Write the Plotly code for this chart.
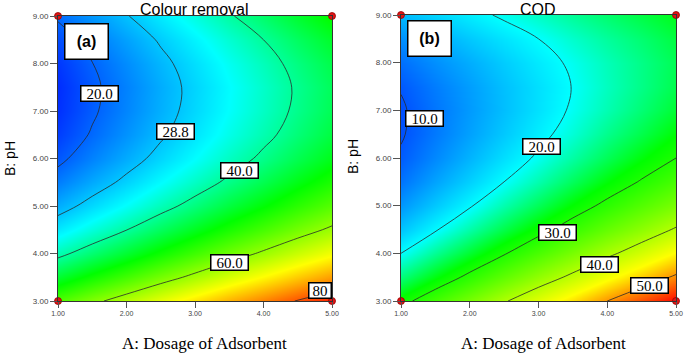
import plotly.graph_objects as go

# ---------------- data ----------------
dosage = [1.0, 1.5, 2.0, 2.5, 3.0, 3.5, 4.0, 4.5, 5.0]
ph = [3.0, 3.5, 4.0, 4.5, 5.0, 5.5, 6.0, 6.5, 7.0, 7.5, 8.0, 8.5, 9.0]

# Colour removal (%) surface (rows = pH, cols = dosage)
colour_removal = [
    [54.7, 58.7, 62.5, 66.3, 69.9, 73.5, 76.9, 80.3, 83.5],
    [46.1, 50.1, 53.9, 57.7, 61.3, 64.9, 68.3, 71.7, 74.9],
    [38.6, 42.6, 46.4, 50.2, 53.8, 57.4, 60.8, 64.2, 67.4],
    [32.1, 36.1, 39.9, 43.7, 47.3, 50.9, 54.3, 57.7, 60.9],
    [26.6, 30.6, 34.4, 38.2, 41.8, 45.4, 48.8, 52.2, 55.4],
    [22.2, 26.2, 30.0, 33.8, 37.4, 41.0, 44.4, 47.8, 51.0],
    [18.8, 22.8, 26.6, 30.4, 34.0, 37.6, 41.0, 44.4, 47.6],
    [16.5, 20.5, 24.3, 28.1, 31.7, 35.3, 38.7, 42.1, 45.3],
    [15.3, 19.3, 23.1, 26.9, 30.5, 34.1, 37.5, 40.9, 44.1],
    [15.0, 19.0, 22.8, 26.6, 30.2, 33.8, 37.2, 40.6, 43.8],
    [15.9, 19.9, 23.7, 27.5, 31.1, 34.7, 38.1, 41.5, 44.7],
    [17.8, 21.8, 25.6, 29.4, 33.0, 36.6, 40.0, 43.4, 46.6],
    [20.7, 24.7, 28.5, 32.3, 35.9, 39.5, 42.9, 46.3, 49.5],
]

# COD removal (%) surface
cod = [
    [28.8, 32.4, 36.0, 39.6, 43.1, 46.5, 50.0, 53.4, 56.7],
    [24.1, 27.5, 30.9, 34.3, 37.7, 40.9, 44.2, 47.4, 50.6],
    [20.0, 23.3, 26.5, 29.7, 32.9, 36.0, 39.1, 42.1, 45.2],
    [16.6, 19.7, 22.8, 25.8, 28.8, 31.7, 34.7, 37.5, 40.4],
    [13.9, 16.8, 19.7, 22.6, 25.4, 28.2, 30.9, 33.6, 36.2],
    [11.8, 14.6, 17.3, 20.0, 22.6, 25.2, 27.8, 30.3, 32.8],
    [10.4, 13.0, 15.6, 18.1, 20.5, 22.9, 25.3, 27.7, 30.0],
    [9.7, 12.1, 14.5, 16.8, 19.1, 21.3, 23.6, 25.7, 27.9],
    [9.6, 11.9, 14.1, 16.2, 18.3, 20.4, 22.4, 24.4, 26.4],
    [10.2, 12.3, 14.3, 16.3, 18.2, 20.1, 22.0, 23.8, 25.6],
    [11.5, 13.4, 15.2, 17.0, 18.8, 20.5, 22.2, 23.8, 25.4],
    [13.4, 15.1, 16.8, 18.4, 20.0, 21.6, 23.1, 24.5, 26.0],
    [16.0, 17.5, 19.0, 20.5, 21.9, 23.3, 24.6, 25.9, 27.2],
]

levels_a = [20.0, 28.8, 40.0, 60.0, 80.0]
levels_b = [10.0, 20.0, 30.0, 40.0, 50.0]

# contour label texts and their positions (data coords)
labels_a = [("20.0", 1.60, 7.37), ("28.8", 2.71, 6.57), ("40.0", 3.65, 5.75),
            ("60.0", 3.51, 3.82), ("80", 4.82, 3.23)]
labels_b = [("10.0", 1.335, 6.82), ("20.0", 3.04, 6.25), ("30.0", 3.27, 4.43),
            ("40.0", 3.89, 3.76), ("50.0", 4.61, 3.32)]

design_x = [1.0, 1.0, 5.0, 5.0]
design_y = [3.0, 9.0, 3.0, 9.0]

x_ticks = [1, 2, 3, 4, 5]
x_ticktext = ["1.00", "2.00", "3.00", "4.00", "5.00"]
y_ticks = [3, 4, 5, 6, 7, 8, 9]
y_ticktext = ["3.00", "4.00", "5.00", "6.00", "7.00", "8.00", "9.00"]

titles = ["Colour removal", "COD"]
panel_tags = ["(a)", "(b)"]
x_title = "A: Dosage of Adsorbent"
y_title = "B: pH"

# colour ramps (value anchors per panel: blue, cyan, green, yellow, red)
ramp_colors = ["rgb(0,0,255)", "rgb(0,255,255)", "rgb(0,255,0)", "rgb(255,255,0)", "rgb(255,0,0)"]
ramp_a = [11, 34, 49, 68, 86]
ramp_b = [5, 20, 28, 45, 57]


def make_scale(anchors):
    lo, hi = anchors[0], anchors[-1]
    return [[(v - lo) / (hi - lo), c] for v, c in zip(anchors, ramp_colors)], lo, hi


# ---------------- figure ----------------
fig = go.Figure()

panels = [
    dict(z=colour_removal, levels=levels_a, ramp=ramp_a, xa="x", ya="y"),
    dict(z=cod, levels=levels_b, ramp=ramp_b, xa="x2", ya="y2"),
]

for p in panels:
    cs, lo, hi = make_scale(p["ramp"])
    fig.add_trace(go.Heatmap(x=dosage, y=ph, z=p["z"], colorscale=cs, zmin=lo, zmax=hi,
                             zsmooth="best", showscale=False, hoverinfo="skip",
                             xaxis=p["xa"], yaxis=p["ya"]))
    for L in p["levels"]:
        fig.add_trace(go.Contour(x=dosage, y=ph, z=p["z"],
                                 contours=dict(start=L, end=L, size=1, coloring="none"),
                                 line=dict(color="#2a2a2a", width=0.8, smoothing=1.0),
                                 showscale=False, hoverinfo="skip",
                                 xaxis=p["xa"], yaxis=p["ya"]))
    fig.add_trace(go.Scatter(x=design_x, y=design_y, mode="markers",
                             marker=dict(color="rgb(225,20,20)", size=7,
                                         line=dict(color="rgb(150,0,0)", width=0.8)),
                             cliponaxis=False, hoverinfo="skip", showlegend=False,
                             xaxis=p["xa"], yaxis=p["ya"]))

ax_common = dict(range=[1, 5], tickvals=x_ticks, ticktext=x_ticktext, ticks="outside",
                 ticklen=6, tickcolor="#555", tickwidth=1, showline=True, linecolor="#333",
                 linewidth=1, mirror=True, showgrid=False, zeroline=False, automargin=False,
                 tickfont=dict(family="Liberation Sans, Arial", size=7, color="#444"))
ay_common = dict(range=[3, 9], tickvals=y_ticks, ticktext=y_ticktext, ticks="outside",
                 ticklen=7, tickcolor="#555", tickwidth=1, showline=True, linecolor="#333",
                 linewidth=1, mirror=True, showgrid=False, zeroline=False, automargin=False,
                 tickfont=dict(family="Liberation Sans, Arial", size=8, color="#444"))

W, H = 685, 353
fig.update_layout(
    width=W, height=H, margin=dict(l=0, r=0, t=0, b=0, pad=0),
    paper_bgcolor="white", plot_bgcolor="white", showlegend=False,
    xaxis=dict(domain=[58 / W, 332 / W], anchor="y", **ax_common),
    yaxis=dict(domain=[(H - 301) / H, (H - 16) / H], anchor="x", **ay_common),
    xaxis2=dict(domain=[401 / W, 676 / W], anchor="y2", **ax_common),
    yaxis2=dict(domain=[(H - 301) / H, (H - 15) / H], anchor="x2", **ay_common),
)

annotations = []
# contour labels
for labels, xr, yr in [(labels_a, "x", "y"), (labels_b, "x2", "y2")]:
    for txt, lx, ly in labels:
        annotations.append(dict(text=txt, x=lx, y=ly, xref=xr, yref=yr, showarrow=False,
                                xanchor="center", yanchor="middle",
                                font=dict(family="Liberation Serif, Times New Roman", size=15, color="black"),
                                bgcolor="white", bordercolor="black", borderwidth=1.5,
                                borderpad=0, width=36 if len(txt) > 2 else 21, height=14))
# panel tags
for tag, xr, yr, tx, ty in [(panel_tags[0], "x", "y", 1.415, 8.46), (panel_tags[1], "x2", "y2", 1.42, 8.51)]:
    annotations.append(dict(text="<b>%s</b>" % tag, x=tx, y=ty, xref=xr, yref=yr, showarrow=False,
                            xanchor="center", yanchor="middle",
                            font=dict(family="Liberation Sans, Arial", size=16, color="black"),
                            bgcolor="white", bordercolor="black", borderwidth=1.5,
                            width=40, height=32))
# titles (kept fully inside the page)
for t, cx in [(titles[0], 194), (titles[1], 538)]:
    annotations.append(dict(text=t, x=cx / W, y=1.0, xref="paper", yref="paper",
                            showarrow=False, xanchor="center", yanchor="top", borderpad=0,
                            font=dict(family="Liberation Sans, Arial", size=16, color="black")))
# axis titles
for cx in [204, 543]:
    annotations.append(dict(text=x_title, x=cx / W, y=(H - 343) / H, xref="paper", yref="paper",
                            showarrow=False, xanchor="center", yanchor="middle",
                            font=dict(family="Liberation Serif, Times New Roman", size=17, color="black")))
for cx, cy in [(10, 159), (353, 156)]:
    annotations.append(dict(text=y_title, x=cx / W, y=(H - cy) / H, xref="paper", yref="paper",
                            showarrow=False, textangle=-90, xanchor="center", yanchor="middle",
                            font=dict(family="Liberation Sans, Arial", size=14, color="black")))
fig.update_layout(annotations=annotations)

fig.write_html("out.html", post_script="document.body.style.margin='0';",
               config={"displayModeBar": False})
